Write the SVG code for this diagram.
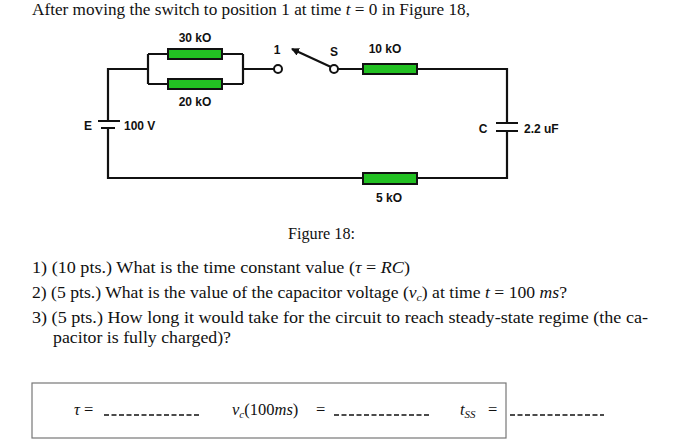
<svg xmlns="http://www.w3.org/2000/svg" width="700" height="446" viewBox="0 0 700 446">
<style>
.w{stroke:#111;stroke-width:2.2;fill:none}
.r{fill:#22c022;stroke:#111;stroke-width:2}
.l{font-family:"Liberation Sans",Arial,sans-serif;font-weight:bold;font-size:12px;fill:#111}
.t{font-family:"Liberation Serif","Times New Roman",serif;font-size:16.5px;fill:#111}
.i{font-style:italic}
</style>
<defs><marker id="ah" markerWidth="8" markerHeight="8" refX="7" refY="4" orient="auto" markerUnits="userSpaceOnUse"><path d="M0,0 L8,4 L0,8 z" fill="#111"/></marker></defs>
<rect width="700" height="446" fill="#fff"/>
<text class="t" x="32" y="15" textLength="438" lengthAdjust="spacingAndGlyphs">After moving the switch to position 1 at time <tspan class="i">t</tspan> = 0 in Figure 18,</text>
<g id="connectors">
<path class="w" d="M108,121 V69 H148 M148,54 V84 M148,54 H168 M222,54 H243 M148,84 H168 M222,84 H243 M243,54 V84 M243,69 H274 M338,69 H363 M417,69 H507 V123 M507,131 V178 H417 M363,178 H108 V128"/>
<line class="w" x1="331" y1="67" x2="292" y2="49" marker-end="url(#ah)"/>
</g>
<g id="r30"><rect class="r" x="168" y="49" width="54" height="10"/><text class="l" x="195" y="42" text-anchor="middle">30 kO</text></g>
<g id="r20"><rect class="r" x="168" y="79" width="54" height="10"/><text class="l" x="195" y="106" text-anchor="middle">20 kO</text></g>
<g id="t1"><circle cx="278" cy="69" r="4" fill="#fff" stroke="#111" stroke-width="2"/><text class="l" x="277" y="54" text-anchor="middle">1</text></g>
<g id="sw"><circle cx="334" cy="69" r="4" fill="#fff" stroke="#111" stroke-width="2"/><text class="l" x="334" y="56" text-anchor="middle">S</text></g>
<g id="r10"><rect class="r" x="363" y="64" width="54" height="10"/><text class="l" x="385" y="53" text-anchor="middle">10 kO</text></g>
<g id="E"><path class="w" d="M98,121 H120 M101,128 H115"/><text class="l" x="88" y="130" text-anchor="middle">E</text><text class="l" x="124" y="130">100 V</text></g>
<g id="C"><path class="w" d="M496,123 H518 M496,131 H518"/><text class="l" x="483" y="133" text-anchor="middle">C</text><text class="l" x="524" y="133">2.2 uF</text></g>
<g id="r5"><rect class="r" x="363" y="173" width="54" height="11"/><text class="l" x="389" y="202" text-anchor="middle">5 kO</text></g>
<text class="t" x="288" y="239" textLength="67" lengthAdjust="spacingAndGlyphs">Figure 18:</text>
<text class="t" x="32" y="273" textLength="378" lengthAdjust="spacingAndGlyphs">1)  (10 pts.)  What is the time constant value (<tspan class="i">τ</tspan> = <tspan class="i">RC</tspan>)</text>
<text class="t" x="32" y="298" textLength="535" lengthAdjust="spacingAndGlyphs">2)  (5 pts.)  What is the value of the capacitor voltage (<tspan class="i">v</tspan><tspan font-size="11" class="i" dy="3">c</tspan><tspan dy="-3">) at time </tspan><tspan class="i">t</tspan> = 100 <tspan class="i">ms</tspan>?</text>
<text class="t" x="32" y="323" textLength="616" lengthAdjust="spacingAndGlyphs">3)  (5 pts.)  How long it would take for the circuit to reach steady-state regime (the ca-</text>
<text class="t" x="53" y="343" textLength="178" lengthAdjust="spacingAndGlyphs">pacitor is fully charged)?</text>
<rect x="32" y="383" width="474" height="55" fill="none" stroke="#777" stroke-width="1.2"/>
<text class="t" x="74" y="415"><tspan class="i">τ</tspan> =</text>
<line x1="104" y1="415" x2="200" y2="415" stroke="#111" stroke-width="1.3" stroke-dasharray="5,2.5"/>
<text class="t" x="232" y="415"><tspan class="i">v</tspan><tspan class="i" font-size="11" dy="3">c</tspan><tspan dy="-3">(100</tspan><tspan class="i">ms</tspan>)</text>
<text class="t" x="316" y="415">=</text>
<line x1="334" y1="415" x2="430" y2="415" stroke="#111" stroke-width="1.3" stroke-dasharray="5,2.5"/>
<text class="t" x="460" y="415"><tspan class="i">t</tspan><tspan class="i" font-size="11" dy="3">SS</tspan></text>
<text class="t" x="488" y="415">=</text>
<line x1="510" y1="415" x2="604" y2="415" stroke="#111" stroke-width="1.3" stroke-dasharray="5,2.5"/>
</svg>
